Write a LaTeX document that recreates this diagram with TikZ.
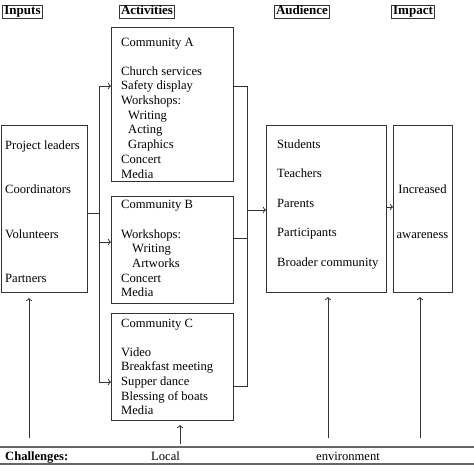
\documentclass[tikz,border=0pt]{standalone}
\usepackage{fontspec}
\setmainfont{Liberation Serif}
\usetikzlibrary{arrows.meta}
\begin{document}
\begin{tikzpicture}[x=1pt,y=-1pt, font=\fontsize{12.6}{14.7}\selectfont,
  box/.style={draw=black!80, line width=1pt, anchor=north west, inner sep=0pt},
  txt/.style={anchor=base west, inner sep=0pt},
  ctxt/.style={anchor=base, inner sep=0pt},
  hdr/.style={draw=black!80, line width=1pt, font=\fontsize{13}{14}\selectfont\bfseries,
    inner xsep=1.5pt, inner ysep=1pt, text height=8.5pt, text depth=2.5pt, anchor=base},
  arr/.style={draw=black!80, line width=0.8pt, -{To[length=3pt,width=6pt]}},
  ln/.style={draw=black!80, line width=1pt},
  gline/.style={draw=black!60, line width=1.5pt}]
\useasboundingbox (0,0) rectangle (474,474);

% headers
\node[hdr] (hIn) at (22.5,14.5) {Inputs};
\node[hdr] (hAct) at (147,14.5) {Activities};
\node[hdr] (hAud) at (302,14.5) {Audience};
\node[hdr] (hImp) at (413,14.5) {Impact};

% boxes
\node[box, minimum width=86.5pt, minimum height=167pt] (In) at (0.5,125) {};
\node[box, minimum width=122pt, minimum height=154pt] (A) at (111,27) {};
\node[box, minimum width=122pt, minimum height=107pt] (B) at (111,196) {};
\node[box, minimum width=122pt, minimum height=107pt] (C) at (111,313) {};
\node[box, minimum width=120pt, minimum height=167pt] (Aud) at (266,125) {};
\node[box, minimum width=59pt, minimum height=167pt] (Imp) at (393,125) {};

% inputs text
\node[txt] (i1) at (5,149) {Project leaders};
\node[txt] (i2) at (5,193) {Coordinators};
\node[txt] (i3) at (5,238) {Volunteers};
\node[txt] (i4) at (5,282) {Partners};

% community A
\node[txt] (a0) at (121,46) {Community A};
\node[txt] (a1) at (121,75) {Church services};
\node[txt] (a2) at (121,89.7) {Safety display};
\node[txt] (a3) at (121,104.4) {Workshops:};
\node[txt] (a4) at (128,119) {Writing};
\node[txt] (a5) at (128,133.8) {Acting};
\node[txt] (a6) at (128,148.5) {Graphics};
\node[txt] (a7) at (121,163.2) {Concert};
\node[txt] (a8) at (121,178) {Media};

% community B
\node[txt] (b0) at (121,208) {Community B};
\node[txt] (b1) at (121,238) {Workshops:};
\node[txt] (b2) at (132,252.7) {Writing};
\node[txt] (b3) at (132,267.4) {Artworks};
\node[txt] (b4) at (121,282.1) {Concert};
\node[txt] (b5) at (121,296.8) {Media};

% community C
\node[txt] (c0) at (121,327) {Community C};
\node[txt] (c1) at (121,356) {Video};
\node[txt] (c2) at (121,370.7) {Breakfast meeting};
\node[txt] (c3) at (121,385.4) {Supper dance};
\node[txt] (c4) at (121,400.1) {Blessing of boats};
\node[txt] (c5) at (121,414.8) {Media};

% audience
\node[txt] (u1) at (277,148) {Students};
\node[txt] (u2) at (277,177.5) {Teachers};
\node[txt] (u3) at (277,207) {Parents};
\node[txt] (u4) at (277,236.5) {Participants};
\node[txt] (u5) at (277,266) {Broader community};

% impact
\node[ctxt] (m1) at (422.5,193) {Increased};
\node[ctxt] (m2) at (422.5,238) {awareness};

% challenges
\node[txt, font=\fontsize{12.6}{14}\selectfont\bfseries] (ch) at (5,460) {Challenges:};
\node[ctxt] (loc) at (165.5,460) {Local};
\node[ctxt] (env) at (348,460) {environment};
\coordinate (gL1) at (0,447);
\coordinate (gR1) at (474,447);
\coordinate (gL2) at (0,464);
\coordinate (gR2) at (474,464);
\draw[gline] (gL1) -- (gR1);
\draw[gline] (gL2) -- (gR2);

% left distribution
\coordinate (lIn) at (99,213);
\coordinate (lA) at (99,86);
\coordinate (lB) at (99,242);
\coordinate (lC) at (99,382);
\draw[ln] (lIn -| In.east) -- (lIn);
\draw[ln] (lA) -- (lC);
\draw[arr] (lA) -- (lA -| A.west);
\draw[arr] (lB) -- (lB -| B.west);
\draw[arr] (lC) -- (lC -| C.west);

% right collection
\coordinate (rA) at (247,86);
\coordinate (rB) at (247,238);
\coordinate (rC) at (247,386);
\coordinate (rM) at (247,210);
\draw[ln] (rA -| A.east) -- (rA) -- (rC) -- (rC -| C.east);
\draw[ln] (rB -| B.east) -- (rB);
\draw[arr] (rM) -- (rM -| Aud.west);
\coordinate (am) at (386,207);
\draw[arr] (am -| Aud.east) -- (am -| Imp.west);

% upward arrows from challenges
\coordinate (u0In) at (29,438);
\coordinate (u0C) at (180,444);
\coordinate (u0Aud) at (328,438);
\coordinate (u0Imp) at (420,438);
\draw[arr, shorten >=5pt] (u0In) -- (u0In |- In.south);
\draw[arr, shorten >=4pt] (u0C) -- (u0C |- C.south);
\draw[arr, shorten >=4pt] (u0Aud) -- (u0Aud |- Aud.south);
\draw[arr, shorten >=4pt] (u0Imp) -- (u0Imp |- Imp.south);
\end{tikzpicture}
\end{document}
